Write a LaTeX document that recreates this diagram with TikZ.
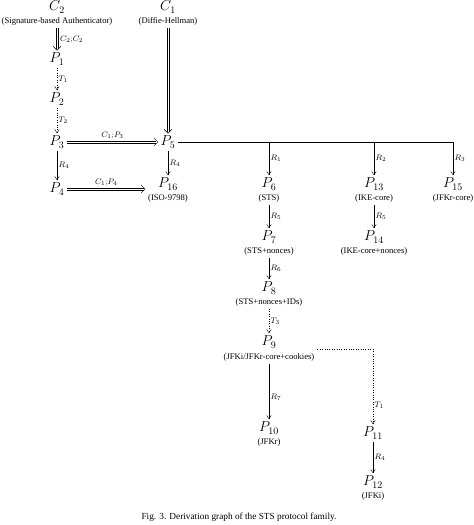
\documentclass[tikz,border=0pt]{standalone}
\usepackage{amsmath}
\usepackage{fontspec}
\setmainfont{Liberation Serif}
\usetikzlibrary{arrows.meta,decorations.markings}

\tikzset{
  pnode/.style={inner sep=0.75pt, outer sep=2pt, font=\Large},
  desc/.style={inner sep=0.5pt, outer sep=2.5pt, font=\fontsize{8.6}{9}\selectfont},
  elbl/.style={inner sep=1.5pt, font=\fontsize{8}{9}\selectfont},
  step arrow/.style={-{Straight Barb[length=3.5pt,width=4.5pt]}, line width=0.4pt},
  trans arrow/.style={step arrow, dotted},
  comp head/.style={decoration={markings, mark=at position 1 with {
      \draw [line width=0.4pt] (-4pt,4pt) -- (0,0) -- (-4pt,-4pt);}},
    postaction=decorate},
  hcomp/.style={draw=none, comp head,
    preaction={draw, line width=0.4pt, shorten >=1.5pt, transform canvas={yshift=1.2pt}},
    preaction={draw, line width=0.4pt, shorten >=1.5pt, transform canvas={yshift=-1.2pt}}},
  vcomp/.style={draw=none, comp head,
    preaction={draw, line width=0.4pt, shorten >=1.5pt, transform canvas={xshift=1.2pt}},
    preaction={draw, line width=0.4pt, shorten >=1.5pt, transform canvas={xshift=-1.2pt}}},
}

\begin{document}
\begin{tikzpicture}[x=1pt,y=1pt,yscale=-1,xscale=1]
\useasboundingbox (0,0) rectangle (474,525);

% Components
\node [pnode] (C2) at (57,7) {$C_2$};
\node [desc] (C2d) at (57,21) {(Signature-based Authenticator)};
\node [pnode] (C1) at (168,7) {$C_1$};
\node [desc] (C1d) at (168,21) {(Diffie-Hellman)};

% Left column
\node [pnode] (P1) at (57,59) {$P_1$};
\node [pnode] (P2) at (57,99) {$P_2$};
\node [pnode] (P3) at (57,142) {$P_3$};
\node [pnode] (P4) at (57,189) {$P_4$};

% Second column
\node [pnode] (P5) at (168,142) {$P_5$};
\node [pnode] (P16) at (168,184) {$P_{16}$};
\node [desc] (P16d) at (168,198) {(ISO-9798)};

% Branch columns
\node [pnode] (P6) at (269,184) {$P_6$};
\node [desc] (P6d) at (269,198) {(STS)};
\node [pnode] (P7) at (269,237) {$P_7$};
\node [desc] (P7d) at (269,251) {(STS+nonces)};
\node [pnode] (P8) at (269,288) {$P_8$};
\node [desc] (P8d) at (269,302) {(STS+nonces+IDs)};
\node [pnode] (P9) at (269,342) {$P_9$};
\node [desc] (P9d) at (269,357) {(JFKi/JFKr-core+cookies)};
\node [pnode] (P10) at (269,428) {$P_{10}$};
\node [desc] (P10d) at (269,442) {(JFKr)};
\node [pnode] (P11) at (373,433) {$P_{11}$};
\node [pnode] (P12) at (373,482) {$P_{12}$};
\node [desc] (P12d) at (373,496) {(JFKi)};

\node [pnode] (P13) at (374,184) {$P_{13}$};
\node [desc] (P13d) at (374,198) {(IKE-core)};
\node [pnode] (P14) at (374,237) {$P_{14}$};
\node [desc] (P14d) at (374,251) {(IKE-core+nonces)};

\node [pnode] (P15) at (453,184) {$P_{15}$};
\node [desc] (P15d) at (453,198) {(JFKr-core)};

% Composition arrows
\draw [vcomp] (C2d) -- node [elbl, right=1.5pt] {$C_2{;}C_2$} (P1);
\draw [vcomp] (C1d) -- (P5);
\draw [hcomp] (P3) -- node [elbl, above=1pt] {$C_1{;}P_3$} (P5);
\draw [hcomp] (P4) -- node [elbl, above=1pt] {$C_1{;}P_4$} (P4 -| P16d.west);

% Transformations and refinements, left part
\draw [trans arrow] (P1) -- node [elbl, right] {$T_1$} (P2);
\draw [trans arrow] (P2) -- node [elbl, right] {$T_2$} (P3);
\draw [step arrow] (P3) -- node [elbl, right] {$R_4$} (P4);
\draw [step arrow] (P5) -- node [elbl, right] {$R_4$} (P16);

% Bus from P5
\coordinate (bus) at (453,142);
\draw [line width=0.4pt] (P5) -- (bus);
\draw [step arrow] (P6 |- bus) -- node [elbl, right] {$R_1$} (P6);
\draw [step arrow] (P13 |- bus) -- node [elbl, right] {$R_2$} (P13);
\draw [step arrow] (bus) -- node [elbl, right] {$R_3$} (P15);

% STS chain
\draw [step arrow] (P6d) -- node [elbl, right] {$R_5$} (P7);
\draw [step arrow] (P7d) -- node [elbl, right] {$R_6$} (P8);
\draw [trans arrow] (P8d) -- node [elbl, right] {$T_3$} (P9);
\draw [step arrow] (P9d) -- node [elbl, right, pos=0.6] {$R_7$} (P10);
\draw [step arrow] (P13d) -- node [elbl, right] {$R_5$} (P14);

% JFKi branch
\coordinate (turn) at (373,349);
\draw [dotted, line width=0.4pt] (P9d.north east |- turn) -- (turn);
\draw [trans arrow] (turn) -- node [elbl, right, pos=0.75] {$T_1$} (P11);
\draw [step arrow] (P11) -- node [elbl, right] {$R_4$} (P12);

% Caption
\node [inner sep=0pt, font=\fontsize{9.3}{11}\selectfont] (cap) at (239,517) {Fig. 3. Derivation graph of the STS protocol family.};

\end{tikzpicture}
\end{document}
